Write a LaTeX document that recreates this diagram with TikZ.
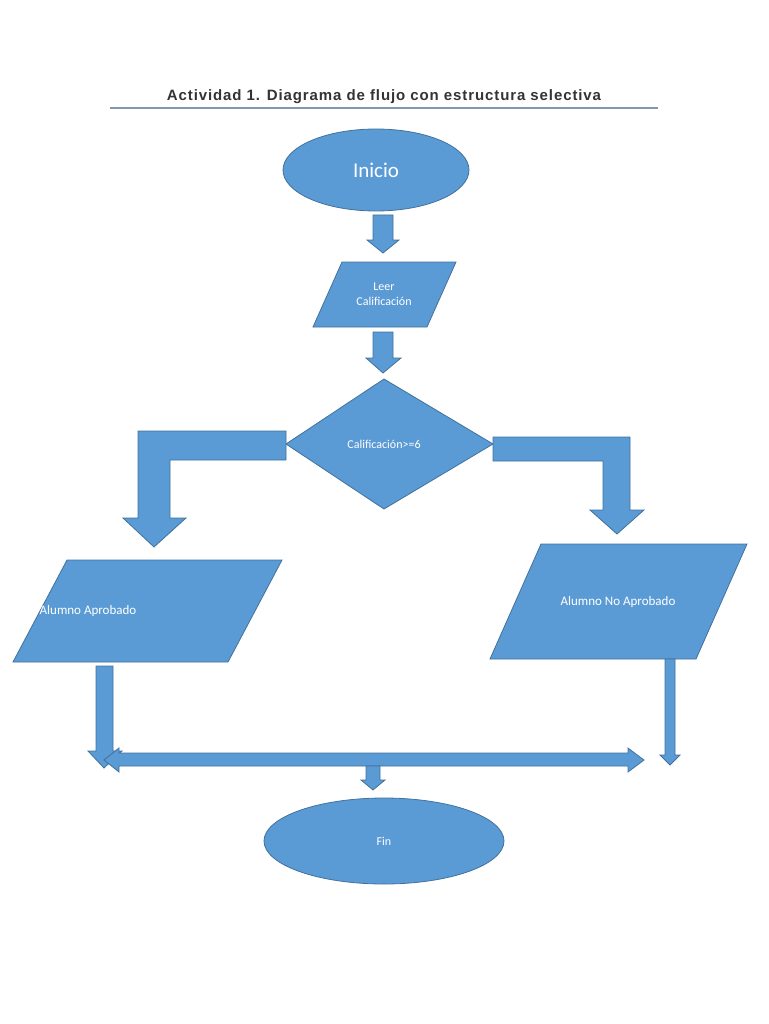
\documentclass[tikz,border=0pt]{standalone}
\usepackage{fontspec}
\setmainfont{Carlito}
\newfontfamily\titlefont[LetterSpace=6]{Liberation Sans}
\usetikzlibrary{shapes.geometric}
\definecolor{boxfill}{HTML}{5B9BD5}
\definecolor{boxline}{HTML}{41719C}
\definecolor{rulecol}{HTML}{8497B0}
\tikzset{
    blk/.style={fill=boxfill, draw=boxline, line width=0.8pt},
    term/.style={blk, ellipse, text=white},
    lbl/.style={text=white, font=\fontsize{12}{15}\selectfont, align=center}
}
\begin{document}
\begin{tikzpicture}[x=1pt,y=-1pt]
	    \useasboundingbox (0,0) rectangle (768,1024);
	    % title
	    \node (title) at (384,97) {\titlefont\bfseries\fontsize{15}{18}\selectfont\color{black!80}Actividad 1. Diagrama de flujo con estructura selectiva};
	    \draw[rulecol, line width=1.2pt] (110,108) -- (658,108);
	    % terminals
	    \node[term, minimum width=186pt, minimum height=82pt, font=\fontsize{21}{24}\selectfont] (inicio) at (376,170) {Inicio};
	    \node[term, minimum width=240pt, minimum height=86pt, font=\fontsize{12}{14}\selectfont] (fin) at (384,841) {Fin};
	    % data and decision shapes
	    \draw[blk] (313,327) -- (342,262) -- (456,262) -- (427,327) -- cycle;
	    \node[lbl] (leer) at (384,294) {Leer\\Calificación};
	    \draw[blk] (384,379) -- (493,444) -- (384,509) -- (286,444) -- cycle;
	    \node[lbl] (cond) at (384,444) {Calificación>=6};
	    \draw[blk] (13,662) -- (67,560) -- (282,560) -- (228,662) -- cycle;
	    \node[lbl, font=\fontsize{13}{15}\selectfont] (apr) at (88,611) {Alumno Aprobado};
	    \draw[blk] (490,659) -- (541,544) -- (747,544) -- (696,659) -- cycle;
	    \node[lbl, font=\fontsize{13}{15}\selectfont] (noapr) at (618,602) {Alumno No Aprobado};
	    % block arrows
	    \draw[blk] (373,215) -- (393,215) -- (393,240) -- (399,240) -- (383,253) -- (367,240) -- (373,240) -- cycle;
	    \draw[blk] (373,332) -- (393,332) -- (393,358) -- (401,358) -- (383,373) -- (366,358) -- (373,358) -- cycle;
	    \draw[blk] (286,431) -- (138,431) -- (138,518) -- (123,518) -- (154,547) -- (186,518) -- (170,518) -- (170,460) -- (286,460) -- cycle;
	    \draw[blk] (493,437) -- (630,437) -- (630,510) -- (644,510) -- (617,534) -- (590,510) -- (603,510) -- (603,461) -- (493,461) -- cycle;
	    \draw[blk] (96,666) -- (113,666) -- (113,751) -- (122,751) -- (104,768) -- (88,751) -- (96,751) -- cycle;
	    \draw[blk] (665,659) -- (675,659) -- (675,755) -- (680,755) -- (670,765) -- (660,755) -- (665,755) -- cycle;
	    \draw[blk] (104,760) -- (119,748) -- (119,753) -- (628,753) -- (628,748) -- (644,760) -- (628,772) -- (628,766) -- (119,766) -- (119,772) -- cycle;
	    \draw[blk] (366,766) -- (380,766) -- (380,780) -- (385,780) -- (373,790) -- (361,780) -- (366,780) -- cycle;
	\end{tikzpicture}
\end{document}
